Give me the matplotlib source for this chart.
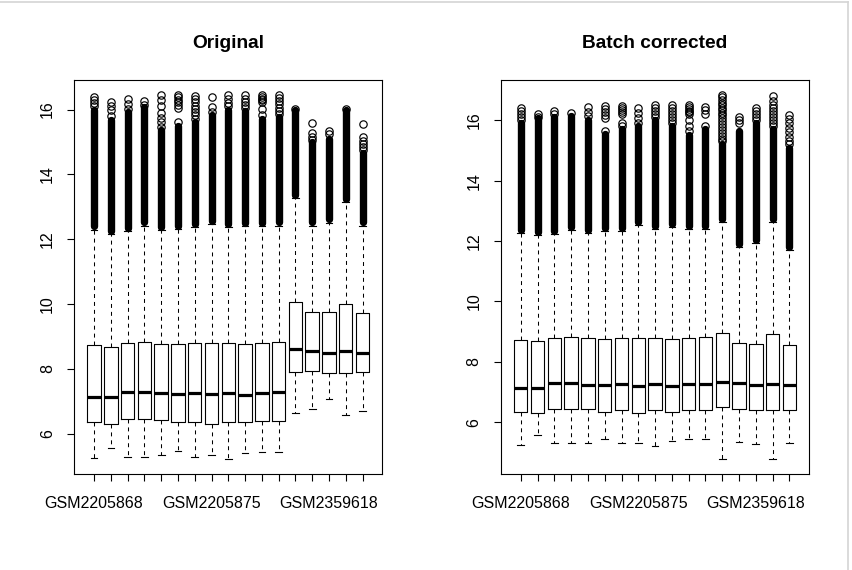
import matplotlib
matplotlib.use('Agg')
import matplotlib.pyplot as plt
from matplotlib.lines import Line2D

plt.rcParams['font.family'] = ['Liberation Sans', 'DejaVu Sans']

samples = ['GSM22058%d' % i for i in range(68, 80)] + \
          ['GSM23596%d' % i for i in range(16, 21)]
shown = ['GSM2205868', 'GSM2205875', 'GSM2359618']

# Original
orig_q1 = [6.34, 6.30, 6.46, 6.46, 6.43, 6.37, 6.37, 6.30, 6.36, 6.34, 6.40, 6.40,
           7.91, 7.94, 7.88, 7.88, 7.91]
orig_med = [7.14, 7.14, 7.29, 7.29, 7.26, 7.23, 7.26, 7.23, 7.26, 7.20, 7.26, 7.29,
            8.62, 8.56, 8.47, 8.56, 8.50]
orig_q3 = [8.74, 8.68, 8.80, 8.83, 8.77, 8.77, 8.80, 8.80, 8.80, 8.77, 8.80, 8.83,
           10.06, 9.75, 9.75, 10.00, 9.72]
orig_lo = [5.23, 5.54, 5.29, 5.29, 5.33, 5.45, 5.29, 5.33, 5.20, 5.39, 5.42, 5.42,
           6.62, 6.77, 7.06, 6.58, 6.68]
orig_hi = [12.29, 12.16, 12.24, 12.42, 12.27, 12.32, 12.36, 12.47, 12.37, 12.41, 12.41, 12.42,
           13.26, 12.42, 12.51, 13.14, 12.42]
# top of the solid run of overlapping outliers
orig_dense = [15.98, 15.67, 15.93, 16.08, 15.36, 15.50, 15.62, 15.82, 16.00, 15.95, 15.72, 15.77,
              16.00, 15.00, 15.10, 16.00, 14.65]
orig_out = [
    [16.40, 16.30, 16.20, 16.10],
    [16.22, 16.12, 15.98, 15.80],
    [16.32, 16.18, 16.03],
    [16.25, 16.15],
    [16.46, 16.29, 16.11, 15.90, 15.74, 15.60, 15.46],
    [16.45, 16.38, 16.30, 16.22, 16.14, 16.05, 15.62],
    [16.42, 16.32, 16.22, 16.12, 16.02, 15.92, 15.82, 15.72],
    [16.39, 16.08, 15.93],
    [16.44, 16.32, 16.20, 16.10],
    [16.44, 16.34, 16.24, 16.14, 16.04],
    [16.45, 16.40, 16.34, 16.28, 16.22, 16.03, 15.82],
    [16.46, 16.36, 16.26, 16.16, 16.06, 15.96, 15.86],
    [16.03],
    [15.57, 15.26, 15.15, 15.05],
    [15.33, 15.23],
    [16.03],
    [15.54, 15.14, 15.04, 14.94, 14.84, 14.74],
]

# Batch corrected
corr_q1 = [6.35, 6.32, 6.45, 6.45, 6.45, 6.35, 6.39, 6.32, 6.39, 6.35, 6.42, 6.42,
           6.50, 6.45, 6.39, 6.42, 6.42]
corr_med = [7.14, 7.14, 7.31, 7.31, 7.24, 7.24, 7.28, 7.21, 7.28, 7.21, 7.28, 7.28,
            7.34, 7.31, 7.24, 7.28, 7.24]
corr_q3 = [8.72, 8.68, 8.78, 8.82, 8.78, 8.75, 8.78, 8.78, 8.78, 8.75, 8.78, 8.82,
           8.96, 8.63, 8.59, 8.93, 8.55]
corr_lo = [5.24, 5.57, 5.31, 5.31, 5.33, 5.43, 5.31, 5.33, 5.20, 5.39, 5.43, 5.43,
           4.77, 5.36, 5.27, 4.77, 5.33]
corr_hi = [12.28, 12.19, 12.25, 12.37, 12.26, 12.34, 12.34, 12.53, 12.39, 12.45, 12.39, 12.41,
           12.63, 11.79, 11.93, 12.63, 11.71]
corr_dense = [15.90, 16.08, 16.10, 16.15, 16.02, 15.53, 15.70, 15.80, 16.00, 15.80, 15.50, 15.70,
              15.20, 15.64, 15.90, 15.70, 15.09]
corr_out = [
    [16.41, 16.30, 16.20, 16.10, 16.00],
    [16.21, 16.12],
    [16.32, 16.20],
    [16.24],
    [16.43, 16.28, 16.13],
    [16.48, 16.38, 16.28, 16.18, 16.08, 15.64],
    [16.46, 16.40, 16.34, 16.28, 16.22, 15.91, 15.80],
    [16.41, 16.25, 16.08, 15.92],
    [16.50, 16.40, 16.30, 16.20, 16.10],
    [16.50, 16.40, 16.30, 16.20, 16.10, 16.00, 15.90],
    [16.50, 16.44, 16.38, 16.32, 16.26, 16.20, 16.00, 15.80, 15.65],
    [16.43, 16.33, 16.20, 15.82],
    [16.85, 16.76, 16.66, 16.58, 16.50, 16.42, 16.34, 16.24, 16.16, 16.06, 15.98, 15.88,
     15.78, 15.68, 15.58, 15.48, 15.38, 15.30],
    [16.10, 16.00, 15.90],
    [16.41, 16.30, 16.20, 16.10, 16.00],
    [16.79, 16.63, 16.52, 16.42, 16.32, 16.22, 16.12, 16.02, 15.92, 15.82],
    [16.19, 16.05, 15.90, 15.75, 15.60, 15.45, 15.30, 15.20],
]


def rboxplot(ax, title, q1, med, q3, lo, hi, dense, out):
    n = len(med)
    pos = list(range(1, n + 1))
    stats = []
    for i in range(n):
        stats.append(dict(q1=q1[i], med=med[i], q3=q3[i], whislo=lo[i],
                          whishi=hi[i], fliers=out[i]))
    ax.bxp(stats, positions=pos, widths=0.8, capwidths=0.4, manage_ticks=False,
           boxprops=dict(color='black', lw=0.8),
           medianprops=dict(color='black', lw=2.3, solid_capstyle='butt'),
           whiskerprops=dict(color='black', lw=0.75, linestyle=(0, (3.8, 3.8))),
           capprops=dict(color='black', lw=0.8),
           flierprops=dict(marker='o', markersize=5.3, markerfacecolor='none',
                           markeredgecolor='black', markeredgewidth=0.85))
    # thousands of overlapping outliers show up as a solid black column
    ax.vlines(pos, [h + 0.1 for h in hi], dense, color='black', lw=5.3,
              capstyle='round')

    ymin = min(lo)
    ymax = max(max(o) for o in out)
    pad = (ymax - ymin) * 0.04
    ax.set_ylim(ymin - pad, ymax + pad)
    ax.set_xlim(0.5 - n * 0.04, n + 0.5 + n * 0.04)

    ax.set_yticks([6, 8, 10, 12, 14, 16])
    ax.set_xticks(pos)
    ax.set_xticklabels([s if s in shown else '' for s in samples])
    ax.tick_params(axis='both', length=5, width=0.8, labelsize=11.5)
    ax.tick_params(axis='x', pad=11)
    ax.tick_params(axis='y', pad=9)
    for lab in ax.get_yticklabels():
        lab.set_rotation(90)
        lab.set_va('center')
    for sp in ax.spines.values():
        sp.set_linewidth(0.8)
    ax.set_title(title, fontsize=13.8, fontweight='bold', pad=23)


fig = plt.figure(figsize=(8.53, 5.70), dpi=100)
ax1 = fig.add_axes([0.0871, 0.1684, 0.3611, 0.6912])
ax2 = fig.add_axes([0.5873, 0.1684, 0.3614, 0.6912])

rboxplot(ax1, 'Original', orig_q1, orig_med, orig_q3, orig_lo, orig_hi, orig_dense, orig_out)
rboxplot(ax2, 'Batch corrected', corr_q1, corr_med, corr_q3, corr_lo, corr_hi, corr_dense, corr_out)

# light frame of the screenshot
fig.add_artist(Line2D([0, 0.994], [0.997, 0.997], color='#d4d4d4', lw=1.2))
fig.add_artist(Line2D([0.994, 0.994], [0, 0.997], color='#d4d4d4', lw=1.2))

fig.savefig('out.png', dpi=100)
